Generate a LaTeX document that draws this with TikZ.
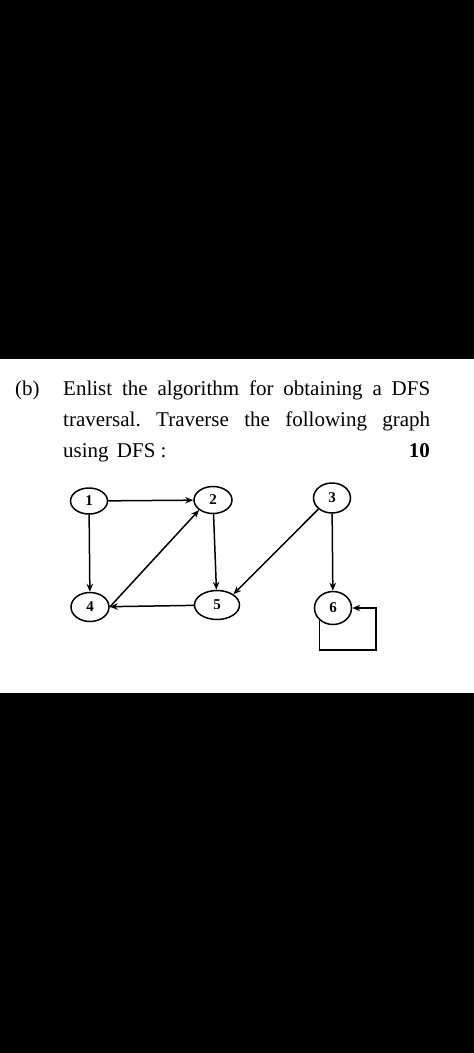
\documentclass[tikz,border=0pt]{standalone}
\usepackage{fontspec}
\setmainfont{Liberation Serif}
\usetikzlibrary{shapes.geometric,arrows.meta}
\tikzset{>={Stealth[length=8pt,width=6.5pt]}}
\tikzset{%
    vertex/.style={%
        draw, ellipse, line width=1.5pt, inner sep=0pt,
        font=\fontsize{15}{15}\selectfont\bfseries
    },
    edge/.style={->, line width=1.5pt},
    qtext/.style={anchor=base west, inner sep=0pt,
        font=\fontsize{21}{31}\selectfont}
}
\frenchspacing
\begin{document}
\begin{tikzpicture}[x=1pt,y=-1pt]
\useasboundingbox (0,0) rectangle (474,1053);
\fill[black] (0,0) rectangle (474,359);
\fill[black] (0,693) rectangle (474,1053);
\node[qtext] (lbl) at (15,395) {(b)};
\node[qtext] (line1) at (63,395) {\makebox[367pt][s]{Enlist the algorithm for obtaining a DFS}};
\node[qtext] (line2) at (63,426) {\makebox[367pt][s]{traversal. Traverse the following graph}};
\node[qtext] (line3) at (63,457) {using\hspace{3pt} DFS :};
\node[qtext,anchor=base east,font=\fontsize{21}{31}\selectfont\bfseries] (marks) at (430,457) {10};
\node[vertex,minimum width=37pt,minimum height=26pt] (n1) at (89,501) {1};
\node[vertex,minimum width=38pt,minimum height=27pt] (n2) at (213,500) {2};
\node[vertex,minimum width=37pt,minimum height=30pt] (n3) at (332,498) {3};
\node[vertex,minimum width=38pt,minimum height=29pt] (n4) at (90,607) {4};
\node[vertex,minimum width=45pt,minimum height=29pt] (n5) at (217,605) {5};
\node[vertex,minimum width=37pt,minimum height=33pt] (n6) at (333,608) {6};
\coordinate (loop6) at (376,650);
\draw[edge] (n1) -- (n2);
\draw[edge] (n1) -- (n4);
\draw[edge] (n4.east) -- (n2.south west);
\draw[edge] (n2) -- (n5);
\draw[edge] (n5) -- (n4);
\draw[edge] (n3.south west) -- (n5.north east);
\draw[edge] (n3) -- (n6);
\draw[edge] (n6.south west) |- (loop6) |- (n6.east);
\end{tikzpicture}
\end{document}
